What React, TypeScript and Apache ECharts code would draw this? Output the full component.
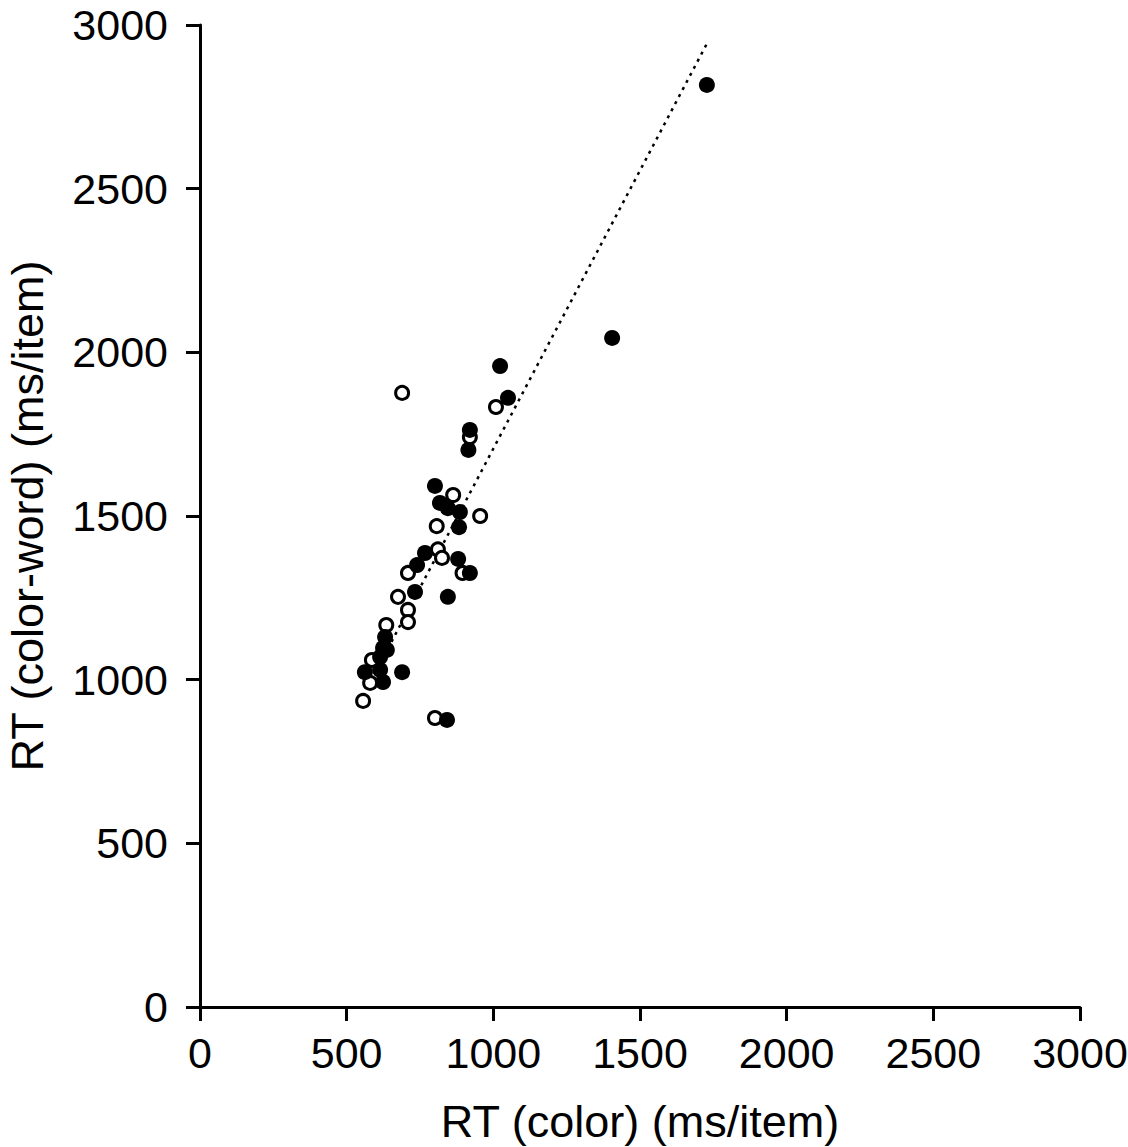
import React, { useEffect, useRef } from "react";
import * as echarts from "echarts";

const xTicks = [0, 500, 1000, 1500, 2000, 2500, 3000];
const yTicks = [0, 500, 1000, 1500, 2000, 2500, 3000];

const filledPoints: [number, number][] = [
  [1728, 2817], [1405, 2044], [1023, 1958], [1050, 1861], [920, 1763],
  [915, 1702], [801, 1592], [818, 1540], [845, 1524], [886, 1512],
  [883, 1466], [767, 1387], [740, 1350], [880, 1369], [920, 1326],
  [733, 1268], [845, 1253], [631, 1130], [624, 1097], [614, 1069],
  [637, 1091], [562, 1023], [614, 1030], [689, 1023], [624, 993],
  [842, 877],
];

const openPoints: [number, number][] = [
  [689, 1876], [1009, 1833], [920, 1741], [863, 1564], [955, 1500],
  [807, 1469], [811, 1398], [825, 1372], [709, 1326], [895, 1326],
  [675, 1253], [709, 1213], [709, 1176], [635, 1167], [586, 1060],
  [580, 990], [556, 935], [801, 883],
];

const fitLine: [number, number][] = [
  [640, 1094],
  [1728, 2943],
];

export default function App() {
  const ref = useRef<HTMLDivElement>(null);
  useEffect(() => {
    if (!ref.current) return;
    const chart = echarts.init(ref.current, undefined, { renderer: "svg" });
    const font = "'Liberation Sans', Arial, Helvetica, sans-serif";
    const axisCommon = {
      min: 0,
      max: 3000,
      interval: 500,
      axisLine: { show: true, lineStyle: { color: "#000", width: 3 } },
      axisTick: { show: true, length: 14, lineStyle: { color: "#000", width: 3 } },
      splitLine: { show: false },
      nameTextStyle: { color: "#000", fontSize: 45, fontFamily: font },
      nameLocation: "middle" as const,
    };
    chart.setOption({
      animation: false,
      backgroundColor: "#fff",
      grid: {
        left: 200,
        right: 48,
        top: 25,
        bottom: 140,
        containLabel: false,
        outerBoundsMode: "none",
      },
      xAxis: {
        ...axisCommon,
        type: "value",
        name: "RT (color) (ms/item)",
        nameGap: 92,
        axisLabel: {
          color: "#000",
          fontSize: 43,
          fontFamily: font,
          margin: 24,
          formatter: (v: number) => (xTicks.includes(v) ? String(v) : ""),
        },
      },
      yAxis: {
        ...axisCommon,
        type: "value",
        name: "RT (color-word) (ms/item)",
        nameGap: 150,
        axisLabel: {
          color: "#000",
          fontSize: 43,
          fontFamily: font,
          margin: 32,
          formatter: (v: number) => (yTicks.includes(v) ? String(v) : ""),
        },
      },
      series: [
        {
          type: "line",
          data: fitLine,
          showSymbol: false,
          symbol: "none",
          lineStyle: { color: "#000", width: 2.5, type: [3, 5] },
          z: 1,
        },
        {
          type: "scatter",
          data: openPoints,
          symbol: "circle",
          symbolSize: 13,
          itemStyle: { color: "#fff", borderColor: "#000", borderWidth: 3, opacity: 1 },
          z: 2,
        },
        {
          type: "scatter",
          data: filledPoints,
          symbol: "circle",
          symbolSize: 16,
          itemStyle: { color: "#000", opacity: 1 },
          z: 3,
        },
      ],
    });
    return () => chart.dispose();
  }, []);
  return (
    <div
      ref={ref}
      style={{ position: "absolute", left: 0, top: 0, width: 1128, height: 1147 }}
    />
  );
}
